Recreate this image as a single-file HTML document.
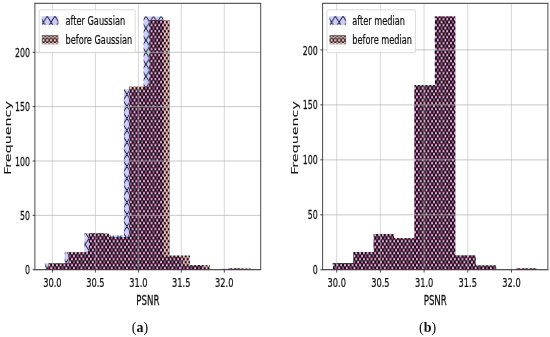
<!DOCTYPE html>
<html>
<head>
<meta charset="utf-8">
<title>PSNR histograms</title>
<style>
html,body{margin:0;padding:0;background:#fff;}
body{width:550px;height:337px;overflow:hidden;}
svg{display:block;}
svg text{font-family:"DejaVu Sans","Liberation Sans",sans-serif;fill:#111;stroke:#111;stroke-width:0.25px;}
svg text.cap{font-family:"Liberation Serif","DejaVu Serif",serif;fill:#111;stroke:none;}
</style>
</head>
<body>
<svg width="550" height="337" viewBox="0 0 550 337">
<defs>
<pattern id="hxa" patternUnits="userSpaceOnUse" width="16.6667" height="16.6667" patternTransform="translate(145.9 16.2) scale(0.4552 0.7208)">
<path d="M-2 -2 L18.6667 18.6667 M18.6667 -2 L-2 18.6667 M-2 14.666699999999999 L2 18.6667 M14.666699999999999 -2 L18.6667 2 M-2 2 L2 -2 M14.666699999999999 18.6667 L18.6667 14.666699999999999" stroke="#000" stroke-width="1.5" fill="none"/>
</pattern>
<pattern id="hoa" patternUnits="userSpaceOnUse" width="8.33" height="16.6667" patternTransform="translate(145.9 16.2) scale(0.4552 0.7208)">
<g stroke="#000" stroke-width="1.6" fill="none"><circle cx="0" cy="0" r="2.92"/><circle cx="8.33" cy="0" r="2.92"/><circle cx="0" cy="16.67" r="2.92"/><circle cx="8.33" cy="16.67" r="2.92"/><circle cx="4.17" cy="8.33" r="2.92"/></g>
</pattern>
<pattern id="hva" patternUnits="userSpaceOnUse" width="7.58" height="12.0" patternTransform="translate(145.9 16.2)">
<rect width="7.58" height="12.0" fill="#0a0006"/>
<g fill="#f6aeec"><ellipse cx="0" cy="0" rx="1.05" ry="1.4"/><ellipse cx="0" cy="6" rx="1.05" ry="1.4"/><ellipse cx="0" cy="12" rx="1.05" ry="1.4"/><ellipse cx="1.9" cy="3" rx="1.05" ry="1.4"/><ellipse cx="1.9" cy="9" rx="1.05" ry="1.4"/><ellipse cx="3.79" cy="0" rx="1.05" ry="1.4"/><ellipse cx="3.79" cy="6" rx="1.05" ry="1.4"/><ellipse cx="3.79" cy="12" rx="1.05" ry="1.4"/><ellipse cx="5.69" cy="3" rx="1.05" ry="1.4"/><ellipse cx="5.69" cy="9" rx="1.05" ry="1.4"/><ellipse cx="7.58" cy="0" rx="1.05" ry="1.4"/><ellipse cx="7.58" cy="6" rx="1.05" ry="1.4"/><ellipse cx="7.58" cy="12" rx="1.05" ry="1.4"/></g>
<g fill="#5a0a24"><ellipse cx="0" cy="0" rx="0.6" ry="0.9"/><ellipse cx="7.58" cy="0" rx="0.6" ry="0.9"/><ellipse cx="0" cy="12" rx="0.6" ry="0.9"/><ellipse cx="7.58" cy="12" rx="0.6" ry="0.9"/><ellipse cx="3.79" cy="6" rx="0.6" ry="0.9"/></g>
</pattern>
<pattern id="hra" patternUnits="userSpaceOnUse" width="3.79" height="6" patternTransform="translate(145.9 16.2)">
<rect width="3.79" height="6" fill="#ffcaca"/>
<g fill="#0a0000"><ellipse cx="1.9" cy="0" rx="1.08" ry="1.5"/><ellipse cx="1.9" cy="6" rx="1.08" ry="1.5"/><ellipse cx="0" cy="3" rx="1.08" ry="1.5"/><ellipse cx="3.79" cy="3" rx="1.08" ry="1.5"/></g>
</pattern>
<pattern id="hxb" patternUnits="userSpaceOnUse" width="16.6667" height="16.6667" patternTransform="translate(434 16.2) scale(0.4552 0.7208)">
<path d="M-2 -2 L18.6667 18.6667 M18.6667 -2 L-2 18.6667 M-2 14.666699999999999 L2 18.6667 M14.666699999999999 -2 L18.6667 2 M-2 2 L2 -2 M14.666699999999999 18.6667 L18.6667 14.666699999999999" stroke="#000" stroke-width="1.5" fill="none"/>
</pattern>
<pattern id="hob" patternUnits="userSpaceOnUse" width="8.33" height="16.6667" patternTransform="translate(434 16.2) scale(0.4552 0.7208)">
<g stroke="#000" stroke-width="1.6" fill="none"><circle cx="0" cy="0" r="2.92"/><circle cx="8.33" cy="0" r="2.92"/><circle cx="0" cy="16.67" r="2.92"/><circle cx="8.33" cy="16.67" r="2.92"/><circle cx="4.17" cy="8.33" r="2.92"/></g>
</pattern>
<pattern id="hvb" patternUnits="userSpaceOnUse" width="7.58" height="12.0" patternTransform="translate(434 16.2)">
<rect width="7.58" height="12.0" fill="#0a0006"/>
<g fill="#f6aeec"><ellipse cx="0" cy="0" rx="1.05" ry="1.4"/><ellipse cx="0" cy="6" rx="1.05" ry="1.4"/><ellipse cx="0" cy="12" rx="1.05" ry="1.4"/><ellipse cx="1.9" cy="3" rx="1.05" ry="1.4"/><ellipse cx="1.9" cy="9" rx="1.05" ry="1.4"/><ellipse cx="3.79" cy="0" rx="1.05" ry="1.4"/><ellipse cx="3.79" cy="6" rx="1.05" ry="1.4"/><ellipse cx="3.79" cy="12" rx="1.05" ry="1.4"/><ellipse cx="5.69" cy="3" rx="1.05" ry="1.4"/><ellipse cx="5.69" cy="9" rx="1.05" ry="1.4"/><ellipse cx="7.58" cy="0" rx="1.05" ry="1.4"/><ellipse cx="7.58" cy="6" rx="1.05" ry="1.4"/><ellipse cx="7.58" cy="12" rx="1.05" ry="1.4"/></g>
<g fill="#5a0a24"><ellipse cx="0" cy="0" rx="0.6" ry="0.9"/><ellipse cx="7.58" cy="0" rx="0.6" ry="0.9"/><ellipse cx="0" cy="12" rx="0.6" ry="0.9"/><ellipse cx="7.58" cy="12" rx="0.6" ry="0.9"/><ellipse cx="3.79" cy="6" rx="0.6" ry="0.9"/></g>
</pattern>
<pattern id="hrb" patternUnits="userSpaceOnUse" width="3.79" height="6" patternTransform="translate(434 16.2)">
<rect width="3.79" height="6" fill="#ffcaca"/>
<g fill="#0a0000"><ellipse cx="1.9" cy="0" rx="1.08" ry="1.5"/><ellipse cx="1.9" cy="6" rx="1.08" ry="1.5"/><ellipse cx="0" cy="3" rx="1.08" ry="1.5"/><ellipse cx="3.79" cy="3" rx="1.08" ry="1.5"/></g>
</pattern>
</defs>
<rect width="550" height="337" fill="#fff"/>
<g id="plot-a">
<clipPath id="cba"><path d="M44.9 269.7 L44.9 263.18 L64.65 263.18 L64.65 252.31 L84.4 252.31 L84.4 233.29 L104.15 233.29 L104.15 235.46 L123.9 235.46 L123.9 89.26 L143.65 89.26 L143.65 16.43 L163.4 16.43 L163.4 256.66 L183.15 256.66 L183.15 265.35 L202.9 265.35 L202.9 269.7 L222.65 269.7 L222.65 268.61 L242.4 268.61 L242.4 269.7 Z"/></clipPath>
<path d="M44.9 269.7 L44.9 263.18 L64.65 263.18 L64.65 252.31 L84.4 252.31 L84.4 233.29 L104.15 233.29 L104.15 235.46 L123.9 235.46 L123.9 89.26 L143.65 89.26 L143.65 16.43 L163.4 16.43 L163.4 256.66 L183.15 256.66 L183.15 265.35 L202.9 265.35 L202.9 269.7 L222.65 269.7 L222.65 268.61 L242.4 268.61 L242.4 269.7 Z" fill="#0000ff" fill-opacity="0.2"/>
<path d="M48.5 269.7 L48.5 263.18 L68.7 263.18 L68.7 252.31 L88.9 252.31 L88.9 233.29 L109.1 233.29 L109.1 237.09 L129.3 237.09 L129.3 86.54 L149.5 86.54 L149.5 20.02 L169.7 20.02 L169.7 255.57 L189.9 255.57 L189.9 265.35 L210.1 265.35 L210.1 269.7 L230.3 269.7 L230.3 268.61 L250.5 268.61 L250.5 269.7 Z" fill="#ff0000" fill-opacity="0.2"/>
<path d="M48.5 269.7 L48.5 263.18 L68.7 263.18 L68.7 252.31 L88.9 252.31 L88.9 233.29 L109.1 233.29 L109.1 237.09 L129.3 237.09 L129.3 86.54 L149.5 86.54 L149.5 20.02 L169.7 20.02 L169.7 255.57 L189.9 255.57 L189.9 265.35 L210.1 265.35 L210.1 269.7 L230.3 269.7 L230.3 268.61 L250.5 268.61 L250.5 269.7 Z" clip-path="url(#cba)" fill="#f0a8e6" fill-opacity="0.9"/>
<path d="M44.9 269.7 L44.9 263.18 L64.65 263.18 L64.65 252.31 L84.4 252.31 L84.4 233.29 L104.15 233.29 L104.15 235.46 L123.9 235.46 L123.9 89.26 L143.65 89.26 L143.65 16.43 L163.4 16.43 L163.4 256.66 L183.15 256.66 L183.15 265.35 L202.9 265.35 L202.9 269.7 L222.65 269.7 L222.65 268.61 L242.4 268.61 L242.4 269.7 Z" fill="url(#hxa)"/>
<path d="M48.5 269.7 L48.5 263.18 L68.7 263.18 L68.7 252.31 L88.9 252.31 L88.9 233.29 L109.1 233.29 L109.1 237.09 L129.3 237.09 L129.3 86.54 L149.5 86.54 L149.5 20.02 L169.7 20.02 L169.7 255.57 L189.9 255.57 L189.9 265.35 L210.1 265.35 L210.1 269.7 L230.3 269.7 L230.3 268.61 L250.5 268.61 L250.5 269.7 Z" fill="url(#hra)"/>
<path d="M48.5 269.7 L48.5 263.18 L68.7 263.18 L68.7 252.31 L88.9 252.31 L88.9 233.29 L109.1 233.29 L109.1 237.09 L129.3 237.09 L129.3 86.54 L149.5 86.54 L149.5 20.02 L169.7 20.02 L169.7 255.57 L189.9 255.57 L189.9 265.35 L210.1 265.35 L210.1 269.7 L230.3 269.7 L230.3 268.61 L250.5 268.61 L250.5 269.7 Z" clip-path="url(#cba)" fill="url(#hva)"/>
<path d="M52.4 3.3 V269.7 M95.4 3.3 V269.7 M138.4 3.3 V269.7 M181.3 3.3 V269.7 M224.3 3.3 V269.7" stroke="#b0b0b0" stroke-width="0.5" fill="none"/>
<path d="M34.9 269.7 H260.7 M34.9 215.35 H260.7 M34.9 161 H260.7 M34.9 106.65 H260.7 M34.9 52.3 H260.7" stroke="#b0b0b0" stroke-width="0.7" fill="none"/>
<path d="M34.9 3.3 V269.7 M260.7 3.3 V269.7" stroke="#2a2a2a" stroke-width="0.85" fill="none"/>
<path d="M34.45 3.3 H261.15 M34.45 269.7 H261.15" stroke="#2a2a2a" stroke-width="0.95" fill="none"/>
<path d="M52.4 269.7 v2.9 M95.4 269.7 v2.9 M138.4 269.7 v2.9 M181.3 269.7 v2.9 M224.3 269.7 v2.9" stroke="#1a1a1a" stroke-width="0.75" fill="none"/>
<path d="M34.9 269.7 h-2.3 M34.9 215.35 h-2.3 M34.9 161 h-2.3 M34.9 106.65 h-2.3 M34.9 52.3 h-2.3" stroke="#1a1a1a" stroke-width="0.8" fill="none"/>
<text transform="translate(52.4 287.3) scale(0.632 1)" font-size="13.1" text-anchor="middle">30.0</text>
<text transform="translate(95.4 287.3) scale(0.632 1)" font-size="13.1" text-anchor="middle">30.5</text>
<text transform="translate(138.4 287.3) scale(0.632 1)" font-size="13.1" text-anchor="middle">31.0</text>
<text transform="translate(181.3 287.3) scale(0.632 1)" font-size="13.1" text-anchor="middle">31.5</text>
<text transform="translate(224.3 287.3) scale(0.632 1)" font-size="13.1" text-anchor="middle">32.0</text>
<text transform="translate(30 274.3) scale(0.600 1)" font-size="13.1" text-anchor="end">0</text>
<text transform="translate(30 219.95) scale(0.600 1)" font-size="13.1" text-anchor="end">50</text>
<text transform="translate(30 165.6) scale(0.600 1)" font-size="13.1" text-anchor="end">100</text>
<text transform="translate(30 111.25) scale(0.600 1)" font-size="13.1" text-anchor="end">150</text>
<text transform="translate(30 56.9) scale(0.600 1)" font-size="13.1" text-anchor="end">200</text>
<text transform="translate(147.8 305) scale(0.645 1)" font-size="13.4" text-anchor="middle">PSNR</text>
<text transform="translate(10.6 138) rotate(-90) scale(1 0.58)" font-size="14.3" text-anchor="middle" style="stroke-width:0.12px">Frequency</text>
<rect x="39.2" y="9.8" width="96" height="42.9" rx="1.3" ry="2" fill="#fff" fill-opacity="0.8" stroke="#ccc" stroke-width="0.7"/>
<rect x="41.8" y="16.2" width="16.6" height="8.6" fill="#0000ff" fill-opacity="0.2"/>
<rect x="41.8" y="16.2" width="16.6" height="8.6" fill="url(#hxa)"/>
<rect x="41.8" y="35.1" width="16.6" height="9.1" fill="#ff0000" fill-opacity="0.2"/>
<rect x="41.8" y="35.1" width="16.6" height="9.1" fill="url(#hoa)"/>
<text transform="translate(65.5 24.6) scale(0.637 1)" font-size="12.9" text-anchor="start">after Gaussian</text>
<text transform="translate(65.5 43.9) scale(0.637 1)" font-size="12.9" text-anchor="start">before Gaussian</text>
</g>
<g id="plot-b">
<clipPath id="cbb"><path d="M332.7 269.7 L332.7 263.1 L353.1 263.1 L353.1 251.89 L373.5 251.89 L373.5 234.08 L393.9 234.08 L393.9 238.36 L414.3 238.36 L414.3 85.2 L434.7 85.2 L434.7 16.38 L455.1 16.38 L455.1 255.52 L475.5 255.52 L475.5 265.41 L495.9 265.41 L495.9 269.7 L516.3 269.7 L516.3 268.6 L536.7 268.6 L536.7 269.7 Z"/></clipPath>
<path d="M332.7 269.7 L332.7 263.1 L353.1 263.1 L353.1 251.89 L373.5 251.89 L373.5 234.08 L393.9 234.08 L393.9 238.36 L414.3 238.36 L414.3 85.2 L434.7 85.2 L434.7 16.38 L455.1 16.38 L455.1 255.52 L475.5 255.52 L475.5 265.41 L495.9 265.41 L495.9 269.7 L516.3 269.7 L516.3 268.6 L536.7 268.6 L536.7 269.7 Z" fill="#0000ff" fill-opacity="0.2"/>
<path d="M333 269.7 L333 263.1 L353.4 263.1 L353.4 251.89 L373.8 251.89 L373.8 234.08 L394.2 234.08 L394.2 238.36 L414.6 238.36 L414.6 85.2 L435 85.2 L435 16.38 L455.4 16.38 L455.4 255.52 L475.8 255.52 L475.8 265.41 L496.2 265.41 L496.2 269.7 L516.6 269.7 L516.6 268.6 L537 268.6 L537 269.7 Z" fill="#ff0000" fill-opacity="0.2"/>
<path d="M333 269.7 L333 263.1 L353.4 263.1 L353.4 251.89 L373.8 251.89 L373.8 234.08 L394.2 234.08 L394.2 238.36 L414.6 238.36 L414.6 85.2 L435 85.2 L435 16.38 L455.4 16.38 L455.4 255.52 L475.8 255.52 L475.8 265.41 L496.2 265.41 L496.2 269.7 L516.6 269.7 L516.6 268.6 L537 268.6 L537 269.7 Z" clip-path="url(#cbb)" fill="#f0a8e6" fill-opacity="0.9"/>
<path d="M332.7 269.7 L332.7 263.1 L353.1 263.1 L353.1 251.89 L373.5 251.89 L373.5 234.08 L393.9 234.08 L393.9 238.36 L414.3 238.36 L414.3 85.2 L434.7 85.2 L434.7 16.38 L455.1 16.38 L455.1 255.52 L475.5 255.52 L475.5 265.41 L495.9 265.41 L495.9 269.7 L516.3 269.7 L516.3 268.6 L536.7 268.6 L536.7 269.7 Z" fill="url(#hxb)"/>
<path d="M333 269.7 L333 263.1 L353.4 263.1 L353.4 251.89 L373.8 251.89 L373.8 234.08 L394.2 234.08 L394.2 238.36 L414.6 238.36 L414.6 85.2 L435 85.2 L435 16.38 L455.4 16.38 L455.4 255.52 L475.8 255.52 L475.8 265.41 L496.2 265.41 L496.2 269.7 L516.6 269.7 L516.6 268.6 L537 268.6 L537 269.7 Z" fill="url(#hrb)"/>
<path d="M333 269.7 L333 263.1 L353.4 263.1 L353.4 251.89 L373.8 251.89 L373.8 234.08 L394.2 234.08 L394.2 238.36 L414.6 238.36 L414.6 85.2 L435 85.2 L435 16.38 L455.4 16.38 L455.4 255.52 L475.8 255.52 L475.8 265.41 L496.2 265.41 L496.2 269.7 L516.6 269.7 L516.6 268.6 L537 268.6 L537 269.7 Z" clip-path="url(#cbb)" fill="url(#hvb)"/>
<path d="M336.7 3.3 V269.7 M380.4 3.3 V269.7 M424.1 3.3 V269.7 M467.8 3.3 V269.7 M511.5 3.3 V269.7" stroke="#b0b0b0" stroke-width="0.5" fill="none"/>
<path d="M322.6 269.8 H547.9 M322.6 214.83 H547.9 M322.6 159.85 H547.9 M322.6 104.88 H547.9 M322.6 49.9 H547.9" stroke="#b0b0b0" stroke-width="0.7" fill="none"/>
<path d="M322.6 3.3 V269.7 M547.9 3.3 V269.7" stroke="#2a2a2a" stroke-width="0.85" fill="none"/>
<path d="M322.15 3.3 H548.35 M322.15 269.7 H548.35" stroke="#2a2a2a" stroke-width="0.95" fill="none"/>
<path d="M336.7 269.7 v2.9 M380.4 269.7 v2.9 M424.1 269.7 v2.9 M467.8 269.7 v2.9 M511.5 269.7 v2.9" stroke="#1a1a1a" stroke-width="0.75" fill="none"/>
<path d="M322.6 269.8 h-2.3 M322.6 214.83 h-2.3 M322.6 159.85 h-2.3 M322.6 104.88 h-2.3 M322.6 49.9 h-2.3" stroke="#1a1a1a" stroke-width="0.8" fill="none"/>
<text transform="translate(336.7 287.2) scale(0.632 1)" font-size="13.1" text-anchor="middle">30.0</text>
<text transform="translate(380.4 287.2) scale(0.632 1)" font-size="13.1" text-anchor="middle">30.5</text>
<text transform="translate(424.1 287.2) scale(0.632 1)" font-size="13.1" text-anchor="middle">31.0</text>
<text transform="translate(467.8 287.2) scale(0.632 1)" font-size="13.1" text-anchor="middle">31.5</text>
<text transform="translate(511.5 287.2) scale(0.632 1)" font-size="13.1" text-anchor="middle">32.0</text>
<text transform="translate(317.7 274.4) scale(0.600 1)" font-size="13.1" text-anchor="end">0</text>
<text transform="translate(317.7 219.43) scale(0.600 1)" font-size="13.1" text-anchor="end">50</text>
<text transform="translate(317.7 164.45) scale(0.600 1)" font-size="13.1" text-anchor="end">100</text>
<text transform="translate(317.7 109.48) scale(0.600 1)" font-size="13.1" text-anchor="end">150</text>
<text transform="translate(317.7 54.5) scale(0.600 1)" font-size="13.1" text-anchor="end">200</text>
<text transform="translate(435.25 304.5) scale(0.645 1)" font-size="13.4" text-anchor="middle">PSNR</text>
<text transform="translate(298.3 138) rotate(-90) scale(1 0.58)" font-size="14.3" text-anchor="middle" style="stroke-width:0.12px">Frequency</text>
<rect x="326.9" y="9.8" width="88.5" height="42.9" rx="1.3" ry="2" fill="#fff" fill-opacity="0.8" stroke="#ccc" stroke-width="0.7"/>
<rect x="329.5" y="16.2" width="16.6" height="8.6" fill="#0000ff" fill-opacity="0.2"/>
<rect x="329.5" y="16.2" width="16.6" height="8.6" fill="url(#hxb)"/>
<rect x="329.5" y="35.1" width="16.6" height="9.1" fill="#ff0000" fill-opacity="0.2"/>
<rect x="329.5" y="35.1" width="16.6" height="9.1" fill="url(#hob)"/>
<text transform="translate(352.3 24.6) scale(0.637 1)" font-size="12.9" text-anchor="start">after median</text>
<text transform="translate(352.3 43.9) scale(0.637 1)" font-size="12.9" text-anchor="start">before median</text>
</g>
<text class="cap" x="140" y="331.7" font-size="14" text-anchor="middle">(<tspan font-weight="bold">a</tspan>)</text>
<text class="cap" x="427.6" y="331.7" font-size="14" text-anchor="middle">(<tspan font-weight="bold">b</tspan>)</text>
</svg>
</body>
</html>
